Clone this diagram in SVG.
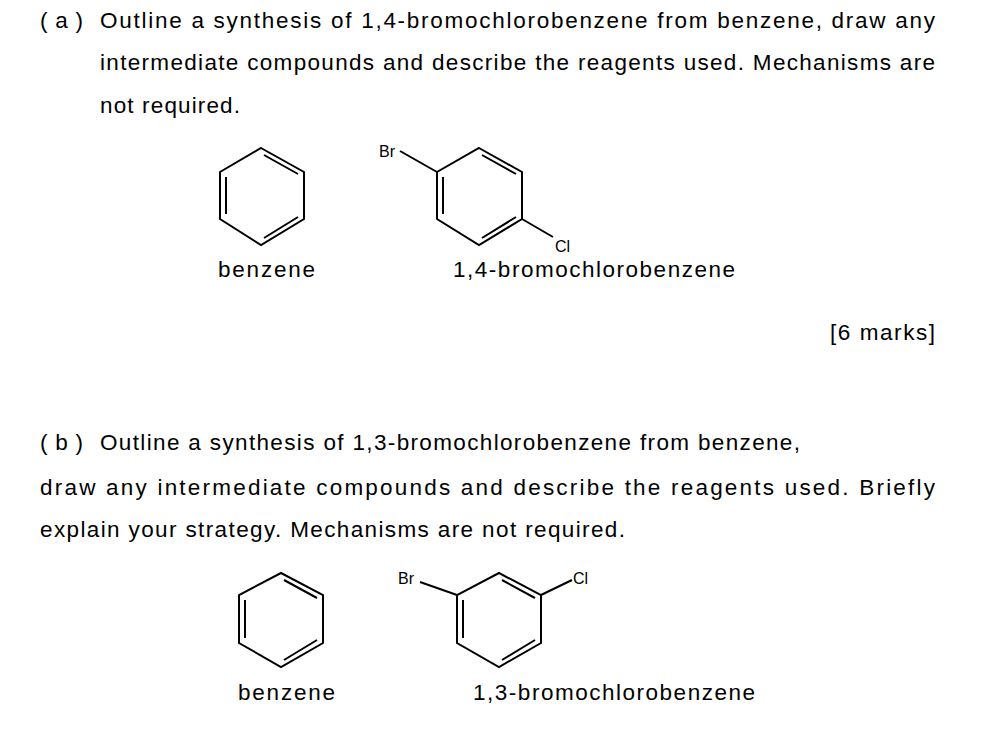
<svg xmlns="http://www.w3.org/2000/svg" width="1002" height="730" viewBox="0 0 1002 730">
<style>
text{font-family:"Liberation Sans",Arial,sans-serif;fill:#000}
.t{font-size:22.5px}
.s{font-size:16px}
.b{stroke:#000;stroke-width:2;fill:none;stroke-linejoin:miter}
</style>
<rect width="1002" height="730" fill="#fff"/>
<g id="text-a">
<text class="t" x="40" y="28" textLength="43">(a)</text>
<text class="t" x="100" y="28" textLength="835">Outline a synthesis of 1,4-bromochlorobenzene from benzene, draw any</text>
<text class="t" x="100" y="70" textLength="835">intermediate compounds and describe the reagents used. Mechanisms are</text>
<text class="t" x="100" y="113" textLength="140">not required.</text>
<text class="t" x="830" y="340" textLength="105">[6 marks]</text>
</g>
<g id="benzene-a">
<path class="b" d="M261,148 L304,172 L304,219 L261,245 L220,219 L220,172 Z"/>
<path class="b" d="M264,155 L298,174 M226,177 L226,214 M298,217 L264,238"/>
<text class="t" x="218" y="277" textLength="97">benzene</text>
</g>
<g id="bromochloro-14">
<path class="b" d="M479,148 L522,172 L522,219 L479,245 L437,219 L437,172 Z"/>
<path class="b" d="M482,155 L516,174 M443,177 L443,214 M516,217 L482,238"/>
<path class="b" d="M400,151 L437,172 M522,219 L553,237"/>
<text class="s" x="379" y="157">Br</text>
<text class="s" x="555" y="252">Cl</text>
<text class="t" x="453" y="277" textLength="282">1,4-bromochlorobenzene</text>
</g>
<g id="text-b">
<text class="t" x="40" y="450" textLength="43">(b)</text>
<text class="t" x="100" y="450" textLength="700">Outline a synthesis of 1,3-bromochlorobenzene from benzene,</text>
<text class="t" x="40" y="495" textLength="895">draw any intermediate compounds and describe the reagents used. Briefly</text>
<text class="t" x="40" y="537" textLength="585">explain your strategy. Mechanisms are not required.</text>
</g>
<g id="benzene-b">
<path class="b" d="M281,573 L323,595 L323,643 L281,667 L239,643 L239,595 Z"/>
<path class="b" d="M284,580 L317,598 M245,600 L245,638 M317,640 L284,660"/>
<text class="t" x="238" y="700" textLength="97">benzene</text>
</g>
<g id="bromochloro-13">
<path class="b" d="M499,573 L541,595 L541,643 L499,667 L457,643 L457,595 Z"/>
<path class="b" d="M502,580 L535,598 M463,600 L463,638 M535,640 L502,660"/>
<path class="b" d="M420,582 L457,595 M541,595 L572,580"/>
<text class="s" x="398" y="584">Br</text>
<text class="s" x="573" y="584">Cl</text>
<text class="t" x="473" y="700" textLength="282">1,3-bromochlorobenzene</text>
</g>
</svg>
